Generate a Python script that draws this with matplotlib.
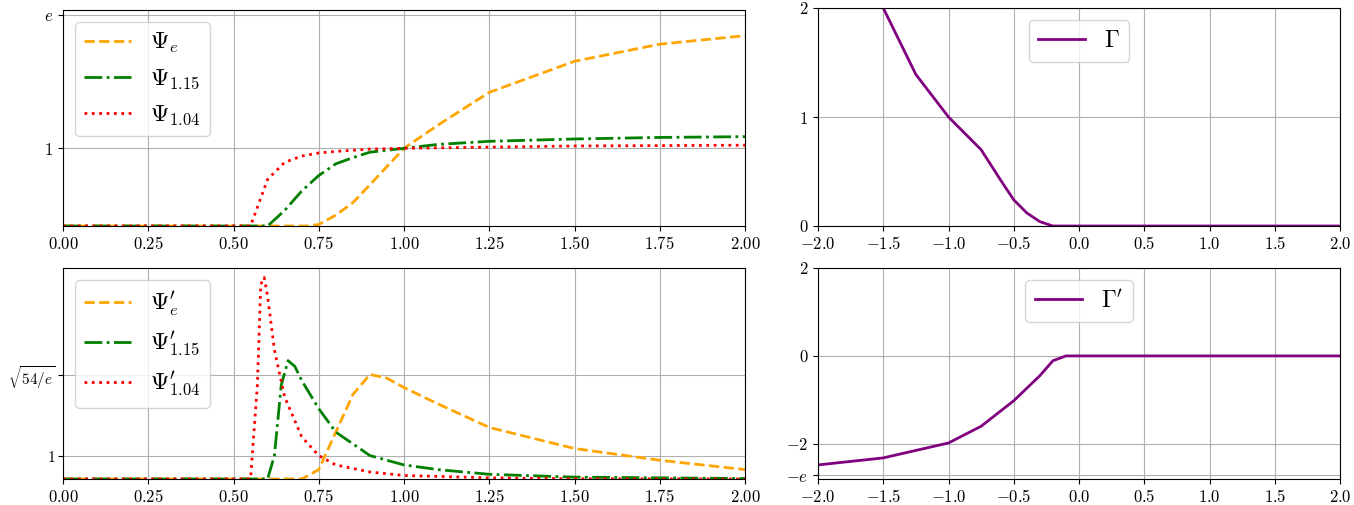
import numpy as np
import matplotlib
matplotlib.use("Agg")
import matplotlib.pyplot as plt

plt.rcParams['mathtext.fontset'] = 'cm'
plt.rcParams['font.family'] = 'serif'
plt.rcParams['font.serif'] = ['DejaVu Serif']

E = np.e
# top-left
xe = [0, 0.72, 0.75, 0.8, 0.85, 0.9, 1.0, 1.1, 1.25, 1.5, 1.75, 2.0]
ye = [0, 0, 0.02, 0.14, 0.3, 0.53, 1.0, 1.3, 1.72, 2.12, 2.34, 2.45]
x115 = [0, 0.6, 0.65, 0.7, 0.75, 0.8, 0.85, 0.9, 1.0, 1.1, 1.25, 1.5, 1.75, 2.0]
y115 = [0, 0, 0.2, 0.45, 0.65, 0.8, 0.88, 0.95, 1.0, 1.05, 1.09, 1.12, 1.14, 1.15]
x104 = [0, 0.55, 0.575, 0.6, 0.65, 0.7, 0.75, 0.8, 0.9, 1.0, 1.5, 2.0]
y104 = [0, 0, 0.3, 0.6, 0.82, 0.9, 0.94, 0.96, 0.99, 1.0, 1.03, 1.04]
# bottom-left
dxe = [0, 0.7, 0.75, 0.8, 0.85, 0.9, 0.95, 1.0, 1.1, 1.25, 1.5, 1.75, 2.0]
dye = [0, 0, 0.4, 2.0, 3.6, 4.46, 4.3, 3.9, 3.2, 2.2, 1.3, 0.8, 0.4]
dx115 = [0, 0.6, 0.62, 0.64, 0.66, 0.68, 0.7, 0.75, 0.8, 0.9, 1.0, 1.1, 1.25, 1.5, 2.0]
dy115 = [0, 0, 1.0, 4.0, 5.05, 4.8, 4.2, 3.0, 2.0, 1.0, 0.6, 0.4, 0.2, 0.08, 0.02]
dx104 = [0, 0.55, 0.57, 0.58, 0.59, 0.6, 0.62, 0.65, 0.7, 0.75, 0.8, 0.9, 1.0, 1.25, 1.5, 2.0]
dy104 = [0, 0, 4.0, 8.3, 8.6, 7.8, 5.5, 3.5, 1.8, 1.0, 0.6, 0.3, 0.15, 0.05, 0.01, 0]
# right
gx = [-1.5, -1.25, -1.0, -0.75, -0.6, -0.5, -0.4, -0.3, -0.2, 2.0]
gy = [2.0, 1.39, 1.0, 0.7, 0.42, 0.24, 0.12, 0.04, 0.0, 0.0]
dgx = [-2.0, -1.5, -1.0, -0.75, -0.5, -0.3, -0.2, -0.1, 2.0]
dgy = [-2.48, -2.32, -1.98, -1.6, -1.02, -0.45, -0.11, 0.0, 0.0]

W, H = 1354, 505
fig = plt.figure(figsize=(13.54, 5.05), dpi=100)
def ax_at(x0, y0, x1, y1):
    return fig.add_axes([x0/W, 1-y1/H, (x1-x0)/W, (y1-y0)/H])

a1 = ax_at(63, 10, 745, 226)
a2 = ax_at(63, 268, 745, 479)
a3 = ax_at(818, 8, 1340, 226)
a4 = ax_at(818, 268, 1340, 479)

xt = np.arange(0, 2.01, 0.25)
xl = ['$%.2f$' % v for v in xt]
for a in (a1, a2):
    a.set_xlim(0, 2); a.set_xticks(xt); a.set_xticklabels(xl, fontsize=12)
    a.grid(True, color='#b0b0b0')
rt = np.arange(-2, 2.01, 0.5)
rl = ['$%.1f$' % v for v in rt]
for a in (a3, a4):
    a.set_xlim(-2, 2); a.set_xticks(rt); a.set_xticklabels(rl, fontsize=12)
    a.grid(True, color='#b0b0b0')

a1.plot(xe, ye, '--', color='orange', lw=2, label=r'$\Psi_e$')
a1.plot(x115, y115, '-.', color='green', lw=2, label=r'$\Psi_{1.15}$')
a1.plot(x104, y104, ':', color='red', lw=2, label=r'$\Psi_{1.04}$')
a1.set_ylim(0, 2.78); a1.set_yticks([1, E]); a1.set_yticklabels(['$1$', '$e$'], fontsize=12)
a1.legend(loc='upper left', fontsize=17)

a2.plot(dxe, dye, '--', color='orange', lw=2, label=r"$\Psi_e'$")
a2.plot(dx115, dy115, '-.', color='green', lw=2, label=r"$\Psi_{1.15}'$")
a2.plot(dx104, dy104, ':', color='red', lw=2, label=r"$\Psi_{1.04}'$")
a2.set_ylim(0, 9.0); a2.set_yticks([1, np.sqrt(54/E)])
a2.set_yticklabels(['$1$', r'$\sqrt{54/e}$'], fontsize=11)
a2.tick_params(axis='y', pad=2)
a2.legend(loc='upper left', fontsize=17)

a3.plot(gx, gy, color='purple', lw=2, label=r'$\Gamma$')
a3.set_ylim(0, 2); a3.set_yticks([0, 1, 2]); a3.set_yticklabels(['$0$', '$1$', '$2$'], fontsize=12)
a3.legend(loc='upper center', fontsize=17)

a4.plot(dgx, dgy, color='purple', lw=2, label=r"$\Gamma'$")
a4.set_ylim(-2.8, 2); a4.set_yticks([-E, -2, 0, 2])
a4.set_yticklabels(['$-e$', '$-2$', '$0$', '$2$'], fontsize=12)
a4.legend(loc='upper center', fontsize=17)

fig.savefig('out.png', dpi=100)
